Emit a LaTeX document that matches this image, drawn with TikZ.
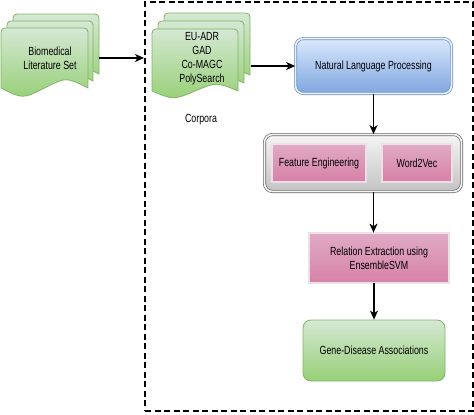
\documentclass[tikz,border=0pt]{standalone}
\usepackage{fontspec}
\setmainfont{Liberation Sans}[FakeStretch=0.75]
\usetikzlibrary{arrows.meta}
\definecolor{gTop}{HTML}{D5E8D4}
\definecolor{gBot}{HTML}{97D077}
\definecolor{gDraw}{HTML}{82B366}
\definecolor{bTop}{HTML}{DAE8FC}
\definecolor{bBot}{HTML}{7EA6E0}
\definecolor{bDraw}{HTML}{6C8EBF}
\definecolor{pTop}{HTML}{E6D0DE}
\definecolor{pBot}{HTML}{D5739D}
\definecolor{pDraw}{HTML}{996185}
\definecolor{yTop}{HTML}{F5F5F5}
\definecolor{yBot}{HTML}{B3B3B3}
\definecolor{yDraw}{HTML}{666666}
\newcommand\docshp[5]{% x y w h offset
  \pgfmathsetmacro\dxa{#1}\pgfmathsetmacro\dxb{#1+#3}\pgfmathsetmacro\dxm{#1+#3/2}%
  \pgfmathsetmacro\dxq{#1+#3/4}\pgfmathsetmacro\dxt{#1+3*#3/4}%
  \pgfmathsetmacro\dyb{#2+#4}\pgfmathsetmacro\dyu{#2+#4-#5}\pgfmathsetmacro\dyd{#2+#4+#5}%
  \pgfmathsetmacro\dya{#2+4}\pgfmathsetmacro\dxc{#1+4}\pgfmathsetmacro\dxd{#1+#3-4}%
  \path[docsty] (\dxa,\dyb) -- (\dxa,\dya) arc[start angle=180,end angle=90,radius=4pt] -- (\dxd,#2) arc[start angle=90,end angle=0,radius=4pt] -- (\dxb,\dyb) .. controls (\dxt,\dyu) .. (\dxm,\dyb) .. controls (\dxq,\dyd) .. (\dxa,\dyb) -- cycle;}
\begin{document}
\begin{tikzpicture}[x=1pt,y=-1pt,
  font=\fontsize{11.8}{14}\selectfont,
  docsty/.style={draw=gDraw, line width=0.8pt, top color=gTop, bottom color=gBot},
  arr/.style={line width=1.3pt, -{Stealth[length=9pt,width=8pt,inset=2.5pt]}},
  frame/.style={draw=black, line width=2pt, dash pattern=on 6pt off 3.5pt, minimum width=328pt, minimum height=409pt, inner sep=0pt},
  nlpbox/.style={draw=bDraw, double=bTop!60!white, double distance=1.6pt, line width=0.7pt, rounded corners=8pt, top color=bTop, bottom color=bBot, minimum width=156pt, minimum height=55pt, inner sep=0pt},
  grpbox/.style={draw=yDraw, double=yTop, double distance=1.6pt, line width=0.7pt, rounded corners=8pt, top color=yTop, bottom color=yBot!80!white, minimum width=197pt, minimum height=57pt, inner sep=0pt},
  pinkbox/.style={draw=pDraw, double=pTop!70!white, double distance=1.4pt, line width=0.7pt, top color=pTop!60!pBot, bottom color=pBot!85!pTop, inner sep=0pt, align=center},
  genebox/.style={draw=gDraw, line width=0.8pt, rounded corners=8pt, top color=gTop, bottom color=gBot, minimum width=142pt, minimum height=61pt, inner sep=0pt},
  txt/.style={inner sep=0pt, align=center}
]
\useasboundingbox (0,0) rectangle (474,415);
% dashed frame
\node[frame] (frame) at (309,206.5) {};
% Biomedical literature stack
\docshp{13}{14}{86}{60}{11}
\docshp{7}{21}{86}{60}{11}
\docshp{1}{28}{87}{60}{11}
\node[txt, minimum width=98pt] (bio) at (50,58) {Biomedical\\Literature Set};
% Corpora stack
\docshp{164}{13}{86}{62}{9}
\docshp{158}{21}{86}{62}{9}
\docshp{152}{29}{86}{62}{9}
\node[txt, minimum width=98pt] (corp) at (202,59) {EU-ADR\\GAD\\Co-MAGC\\PolySearch};
\node[txt] (corplab) at (201,120) {Corpora};
% process boxes
\node[nlpbox] (nlp) at (373.5,66) {Natural Language Processing};
\node[grpbox] (grp) at (363,163) {};
\node[pinkbox, minimum width=94pt, minimum height=38pt] (fe) at (319,163) {Feature Engineering};
\node[pinkbox, minimum width=70pt, minimum height=38pt] (w2v) at (417,163) {Word2Vec};
\node[pinkbox, minimum width=140pt, minimum height=50pt] (rel) at (379,258) {Relation Extraction using\\EnsembleSVM};
\node[genebox] (gene) at (374,350.5) {Gene-Disease Associations};
% connectors
\draw[arr] (bio.east) -- (bio.east -| frame.west);
\draw[arr] (nlp.west -| corp.east) -- (nlp.west);
\draw[arr] (nlp.south) -- (nlp.south |- grp.north);
\draw[arr] (nlp.south |- grp.south) -- (nlp.south |- rel.north);
\draw[arr] (gene.north |- rel.south) -- (gene.north);
\end{tikzpicture}
\end{document}
